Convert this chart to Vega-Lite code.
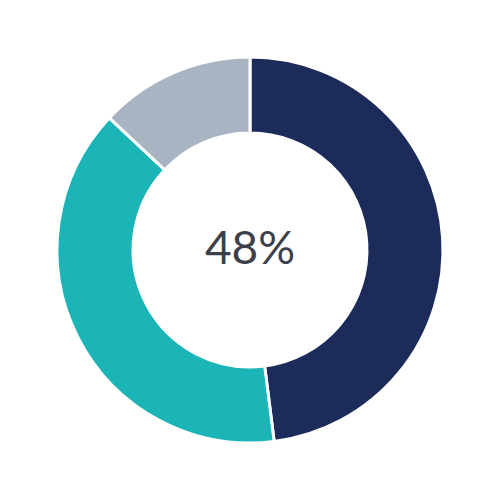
{
  "$schema": "https://vega.github.io/schema/vega-lite/v6.json",
  "width": 500,
  "height": 500,
  "autosize": {"type": "fit", "contains": "padding"},
  "padding": 0,
  "background": "white",
  "view": {"stroke": null},
  "layer": [
    {
      "data": {
        "values": [
          {"segment": "A", "share": 48, "order": 1},
          {"segment": "B", "share": 39, "order": 2},
          {"segment": "C", "share": 13, "order": 3}
        ]
      },
      "mark": {"type": "arc", "outerRadius": 193, "innerRadius": 117, "stroke": "white", "strokeWidth": 3},
      "encoding": {
        "theta": {"field": "share", "type": "quantitative", "stack": true},
        "order": {"field": "order", "type": "quantitative"},
        "color": {
          "field": "segment",
          "type": "nominal",
          "scale": {"domain": ["A", "B", "C"], "range": ["#1c2b5a", "#1bb5b7", "#a9b4c3"]},
          "legend": null
        }
      }
    },
    {
      "data": {"values": [{"label": "48%"}]},
      "mark": {"type": "text", "font": "Lato", "fontSize": 46, "color": "#3b404b", "align": "center", "baseline": "middle", "dy": 0},
      "encoding": {
        "text": {"field": "label", "type": "nominal"}
      }
    }
  ]
}
